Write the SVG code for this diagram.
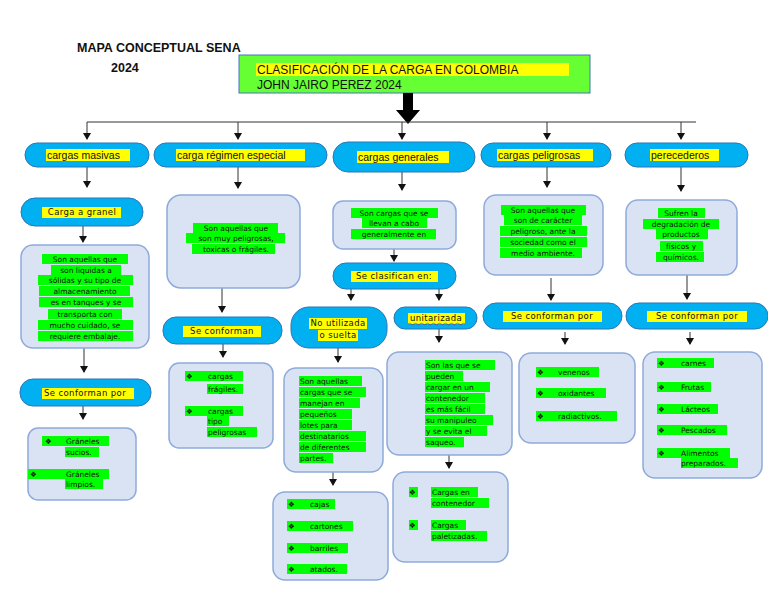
<svg xmlns="http://www.w3.org/2000/svg" width="768" height="594" viewBox="0 0 768 594">
<style>
.pill{fill:#00b0f0;stroke:#2e75b6;stroke-width:1}
.box{fill:#dae3f3;stroke:#8eaadb;stroke-width:1.5}
.y{fill:#ffff00}.g{fill:#00ff00}
.t{font-family:"DejaVu Sans",sans-serif;font-size:7.5px;fill:#111}
.p{font-family:"DejaVu Sans",sans-serif;font-size:8.5px;fill:#111;letter-spacing:0.4px}
.top{font-family:"Liberation Sans",Arial,sans-serif;font-size:10.5px;fill:#111}
.c{stroke:#333;stroke-width:1;fill:none;marker-end:url(#a)}
.m{text-anchor:middle}
</style>
<defs><marker id="a" markerWidth="8" markerHeight="8" refX="6" refY="4" orient="auto" markerUnits="userSpaceOnUse"><path d="M0,0 L7,4 L0,8 Z" fill="#111"/></marker></defs>
<rect width="768" height="594" fill="#fff"/>
<g id="header">
<text x="77" y="52" font-family="Liberation Sans,Arial,sans-serif" font-size="12.5" font-weight="bold" fill="#111">MAPA CONCEPTUAL SENA</text>
<text x="111" y="72" font-family="Liberation Sans,Arial,sans-serif" font-size="12.5" font-weight="bold" fill="#111">2024</text>
</g>
<g id="title">
<rect x="239" y="55" width="351" height="38" fill="#66ff33" stroke="#4472c4" stroke-width="1"/>
<rect class="y" x="256" y="63" width="313" height="13"/>
<text x="257" y="74" font-family="Liberation Sans,Arial,sans-serif" font-size="12" fill="#111">CLASIFICACIÓN DE LA CARGA EN COLOMBIA</text>
<text x="257" y="89" font-family="Liberation Sans,Arial,sans-serif" font-size="12" fill="#111">JOHN JAIRO PEREZ  2024</text>
</g>
<g id="connectors">
<path d="M403,93 V110 H396 L408,124 L420,110 H413 V93 Z" fill="#000"/>
<path d="M87,122 H696" stroke="#333" stroke-width="1"/>
<path class="c" d="M87,122 V139"/><path class="c" d="M238,122 V139"/><path class="c" d="M402,122 V139"/><path class="c" d="M547,122 V139"/><path class="c" d="M681,122 V139"/>
<path class="c" d="M87,167 V187"/><path class="c" d="M238,167 V188"/><path class="c" d="M402,172 V190"/><path class="c" d="M547,167 V187"/><path class="c" d="M681,167 V191"/>
<path class="c" d="M83,226 V242"/><path class="c" d="M84,348 V372"/><path class="c" d="M83,406 V419"/>
<path class="c" d="M222,288 V312"/><path class="c" d="M223,344 V357"/>
<path class="c" d="M394,249 V261"/><path class="c" d="M351,289 V300"/><path class="c" d="M439,289 V300"/>
<path class="c" d="M338,348 V362"/><path class="c" d="M439,329 V342"/><path class="c" d="M449,455 V468"/><path class="c" d="M333,472 V485"/>
<path class="c" d="M551,278 V300"/><path class="c" d="M687,275 V299"/><path class="c" d="M565,332 V344"/><path class="c" d="M690,332 V344"/>
</g>
<g id="n-masivas"><rect class="pill" x="25" y="143" width="124" height="24" rx="12"/><rect class="y" x="46" y="149" width="84" height="12"/><text class="top" x="47" y="159">cargas masivas</text></g>
<g id="n-regimen"><rect class="pill" x="154" y="143" width="173" height="24" rx="12"/><rect class="y" x="176" y="149" width="129" height="12"/><text class="top" x="177" y="159">carga régimen especial</text></g>
<g id="n-generales"><rect class="pill" x="333" y="142" width="142" height="30" rx="15"/><rect class="y" x="357" y="151" width="92" height="12"/><text class="top" x="358" y="161">cargas generales</text></g>
<g id="n-peligrosas"><rect class="pill" x="481" y="143" width="130" height="24" rx="12"/><rect class="y" x="497" y="149" width="96" height="12"/><text class="top" x="498" y="159">cargas peligrosas</text></g>
<g id="n-perecederos"><rect class="pill" x="625" y="143" width="123" height="24" rx="12"/><rect class="y" x="650" y="149" width="69" height="12"/><text class="top" x="651" y="159">perecederos</text></g>

<g id="n-granel"><rect class="pill" x="21" y="198" width="122" height="28" rx="14"/><rect class="y" x="42" y="207" width="79" height="11"/><text class="p m" x="82" y="215">Carga a granel</text></g>
<g id="n-granel-def"><rect class="box" x="21" y="245" width="128" height="103" rx="12"/>
<rect class="g" x="42" y="254" width="86" height="10"/><rect class="g" x="51" y="265" width="70" height="10"/><rect class="g" x="38" y="275" width="95" height="10"/><rect class="g" x="39" y="286" width="91" height="10"/><rect class="g" x="39" y="297" width="94" height="10"/><rect class="g" x="48" y="309" width="74" height="10"/><rect class="g" x="38" y="320" width="95" height="10"/><rect class="g" x="38" y="331" width="95" height="10"/>
<text class="t m" x="85" y="262">Son aquellas que</text><text class="t m" x="86" y="273">son liquidas a</text><text class="t m" x="85" y="283">sólidas y su tipo de</text><text class="t m" x="85" y="294">almacenamiento</text><text class="t m" x="86" y="305">es en tanques y se</text><text class="t m" x="85" y="317">transporta con</text><text class="t m" x="85" y="328">mucho cuidado, se</text><text class="t m" x="85" y="339">requiere embalaje.</text></g>
<g id="n-granel-conf"><rect class="pill" x="20" y="379" width="131" height="27" rx="13"/><rect class="y" x="42" y="388" width="92" height="11"/><text class="p m" x="85" y="396">Se conforman por</text></g>
<g id="n-granel-list"><rect class="box" x="28" y="428" width="108" height="72" rx="10"/>
<rect class="g" x="42" y="436" width="67" height="10"/><rect class="g" x="65" y="447" width="34" height="10"/><rect class="g" x="28" y="469" width="81" height="10"/><rect class="g" x="65" y="479" width="38" height="10"/>
<text class="t" x="45" y="444">❖</text><text class="t" x="66" y="444">Gráneles</text><text class="t" x="66" y="455">sucios.</text><text class="t" x="30" y="477">❖</text><text class="t" x="66" y="477">Gráneles</text><text class="t" x="66" y="487">limpios.</text></g>

<g id="n-regimen-def"><rect class="box" x="167" y="195" width="133" height="93" rx="14"/>
<rect class="g" x="193" y="223" width="85" height="10"/><rect class="g" x="186" y="233" width="99" height="10"/><rect class="g" x="192" y="244" width="83" height="10"/>
<text class="t m" x="236" y="231">Son aquellas que</text><text class="t m" x="236" y="241">son muy peligrosas,</text><text class="t m" x="236" y="252">toxicas o frágiles.</text></g>
<g id="n-regimen-conf"><rect class="pill" x="163" y="317" width="119" height="27" rx="13"/><rect class="y" x="183" y="326" width="78" height="11"/><text class="p m" x="222" y="334">Se conforman</text></g>
<g id="n-regimen-list"><rect class="box" x="169" y="363" width="104" height="85" rx="10"/>
<rect class="g" x="185" y="371" width="58" height="10"/><rect class="g" x="207" y="384" width="36" height="10"/><rect class="g" x="185" y="406" width="58" height="10"/><rect class="g" x="207" y="416" width="22" height="10"/><rect class="g" x="207" y="427" width="50" height="10"/>
<text class="t" x="186" y="379">❖</text><text class="t" x="208" y="379">cargas</text><text class="t" x="208" y="392">frágiles.</text><text class="t" x="186" y="414">❖</text><text class="t" x="208" y="414">cargas</text><text class="t" x="208" y="424">tipo</text><text class="t" x="208" y="435">peligrosas</text></g>

<g id="n-generales-def"><rect class="box" x="333" y="201" width="123" height="48" rx="10"/>
<rect class="g" x="351" y="208" width="87" height="10"/><rect class="g" x="362" y="218" width="65" height="10"/><rect class="g" x="351" y="229" width="85" height="10"/>
<text class="t m" x="394" y="216">Son cargas que se</text><text class="t m" x="394" y="226">llevan a cabo</text><text class="t m" x="394" y="237">generalmente en</text></g>
<g id="n-clasifican"><rect class="pill" x="333" y="263" width="123" height="26" rx="13"/><rect class="y" x="351" y="271" width="87" height="11"/><text class="p m" x="394" y="279">Se clasifican en:</text></g>
<g id="n-suelta"><rect class="pill" x="291" y="307" width="96" height="41" rx="18"/><rect class="y" x="309" y="318" width="58" height="11"/><rect class="y" x="318" y="330" width="40" height="11"/><text class="p m" x="338" y="326">No utilizada</text><text class="p m" x="338" y="338">o suelta</text></g>
<g id="n-unitarizada"><rect class="pill" x="394" y="307" width="83" height="22" rx="11"/><rect class="y" x="408" y="313" width="57" height="11"/><text class="p m" x="436" y="321">unitarizada</text><path d="M408,324 q1.5,-1.5 3,0 t3,0 t3,0 t3,0 t3,0 t3,0 t3,0 t3,0 t3,0 t3,0 t3,0 t3,0 t3,0 t3,0 t3,0 t3,0 t3,0 t3,0 t3,0" stroke="#e00" stroke-width="0.6" fill="none"/></g>
<g id="n-suelta-def"><rect class="box" x="284" y="368" width="99" height="104" rx="12"/>
<rect class="g" x="299" y="376" width="63" height="10"/><rect class="g" x="299" y="387" width="67" height="10"/><rect class="g" x="299" y="398" width="61" height="10"/><rect class="g" x="299" y="409" width="53" height="10"/><rect class="g" x="299" y="420" width="53" height="10"/><rect class="g" x="299" y="431" width="67" height="10"/><rect class="g" x="299" y="442" width="67" height="10"/><rect class="g" x="299" y="453" width="34" height="10"/>
<text class="t" x="300" y="384">Son aquellas</text><text class="t" x="300" y="395">cargas que se</text><text class="t" x="300" y="406">manejan en</text><text class="t" x="300" y="417">pequeños</text><text class="t" x="300" y="428">lotes para</text><text class="t" x="300" y="439">destinatarios</text><text class="t" x="300" y="450">de diferentes</text><text class="t" x="300" y="461">partes.</text></g>
<g id="n-unit-def"><rect class="box" x="387" y="352" width="125" height="103" rx="12"/>
<rect class="g" x="425" y="360" width="70" height="10"/><rect class="g" x="425" y="371" width="38" height="10"/><rect class="g" x="425" y="382" width="65" height="10"/><rect class="g" x="425" y="393" width="60" height="10"/><rect class="g" x="425" y="404" width="60" height="10"/><rect class="g" x="425" y="415" width="68" height="10"/><rect class="g" x="425" y="426" width="62" height="10"/><rect class="g" x="425" y="437" width="39" height="10"/>
<text class="t" x="426" y="368">Son las que se</text><text class="t" x="426" y="379">pueden</text><text class="t" x="426" y="390">cargar en un</text><text class="t" x="426" y="401">contenedor</text><text class="t" x="426" y="412">es más fácil</text><text class="t" x="426" y="423">su manipuleo</text><text class="t" x="426" y="434">y se evita el</text><text class="t" x="426" y="445">saqueo.</text></g>
<g id="n-suelta-list"><rect class="box" x="273" y="492" width="115" height="88" rx="12"/>
<rect class="g" x="287" y="499" width="48" height="10"/><rect class="g" x="287" y="521" width="66" height="10"/><rect class="g" x="287" y="543" width="61" height="10"/><rect class="g" x="287" y="564" width="60" height="10"/>
<text class="t" x="288" y="507">❖</text><text class="t" x="310" y="507">cajas</text><text class="t" x="288" y="529">❖</text><text class="t" x="310" y="529">cartones</text><text class="t" x="288" y="551">❖</text><text class="t" x="310" y="551">barriles</text><text class="t" x="288" y="572">❖</text><text class="t" x="310" y="572">atados.</text></g>
<g id="n-unit-list"><rect class="box" x="393" y="472" width="115" height="90" rx="12"/>
<rect class="g" x="409" y="487" width="9" height="10"/><rect class="g" x="431" y="487" width="47" height="10"/><rect class="g" x="431" y="498" width="58" height="10"/><rect class="g" x="409" y="520" width="9" height="10"/><rect class="g" x="431" y="520" width="35" height="10"/><rect class="g" x="431" y="531" width="56" height="10"/>
<text class="t" x="409" y="495">❖</text><text class="t" x="432" y="495">Cargas en</text><text class="t" x="432" y="506">contenedor</text><text class="t" x="409" y="528">❖</text><text class="t" x="432" y="528">Cargas</text><text class="t" x="432" y="539">paletizadas.</text></g>

<g id="n-peligrosas-def"><rect class="box" x="484" y="195" width="119" height="80" rx="12"/>
<rect class="g" x="501" y="205" width="85" height="10"/><rect class="g" x="504" y="215" width="78" height="10"/><rect class="g" x="500" y="226" width="87" height="10"/><rect class="g" x="500" y="237" width="87" height="10"/><rect class="g" x="500" y="248" width="82" height="10"/>
<text class="t m" x="543" y="213">Son aquellas que</text><text class="t m" x="543" y="223">son de carácter</text><text class="t m" x="543" y="234">peligroso, ante la</text><text class="t m" x="543" y="245">sociedad como el</text><text class="t m" x="543" y="256">medio ambiente.</text></g>
<g id="n-peligrosas-conf"><rect class="pill" x="483" y="303" width="139" height="26" rx="13"/><rect class="y" x="503" y="311" width="99" height="11"/><text class="p m" x="552" y="319">Se conforman por</text></g>
<g id="n-peligrosas-list"><rect class="box" x="519" y="353" width="116" height="90" rx="12"/>
<rect class="g" x="536" y="367" width="63" height="10"/><rect class="g" x="536" y="388" width="70" height="10"/><rect class="g" x="536" y="411" width="81" height="10"/>
<text class="t" x="537" y="375">❖</text><text class="t" x="558" y="375">venenos</text><text class="t" x="537" y="396">❖</text><text class="t" x="558" y="396">oxidantes</text><text class="t" x="537" y="419">❖</text><text class="t" x="558" y="419">radiactivos.</text></g>

<g id="n-perecederos-def"><rect class="box" x="626" y="200" width="111" height="75" rx="12"/>
<rect class="g" x="658" y="208" width="47" height="10"/><rect class="g" x="643" y="219" width="76" height="10"/><rect class="g" x="656" y="229" width="52" height="10"/><rect class="g" x="660" y="241" width="43" height="10"/><rect class="g" x="656" y="252" width="48" height="10"/>
<text class="t m" x="681" y="216">Sufren la</text><text class="t m" x="681" y="227">degradación de</text><text class="t m" x="681" y="237">productos</text><text class="t m" x="681" y="249">físicos y</text><text class="t m" x="681" y="260">químicos.</text></g>
<g id="n-perecederos-conf"><rect class="pill" x="626" y="303" width="142" height="26" rx="13"/><rect class="y" x="647" y="311" width="100" height="11"/><text class="p m" x="697" y="319">Se conforman por</text></g>
<g id="n-perecederos-list"><rect class="box" x="643" y="352" width="119" height="126" rx="12"/>
<rect class="g" x="657" y="358" width="57" height="10"/><rect class="g" x="657" y="382" width="54" height="10"/><rect class="g" x="657" y="404" width="61" height="10"/><rect class="g" x="657" y="425" width="70" height="10"/><rect class="g" x="657" y="448" width="73" height="10"/><rect class="g" x="681" y="458" width="57" height="10"/>
<text class="t" x="658" y="366">❖</text><text class="t" x="681" y="366">carnes</text><text class="t" x="658" y="390">❖</text><text class="t" x="681" y="390">Frutas</text><text class="t" x="658" y="412">❖</text><text class="t" x="681" y="412">Lácteos</text><text class="t" x="658" y="433">❖</text><text class="t" x="681" y="433">Pescados</text><text class="t" x="658" y="456">❖</text><text class="t" x="681" y="456">Alimentos</text><text class="t" x="681" y="466">preparados.</text></g>
</svg>
